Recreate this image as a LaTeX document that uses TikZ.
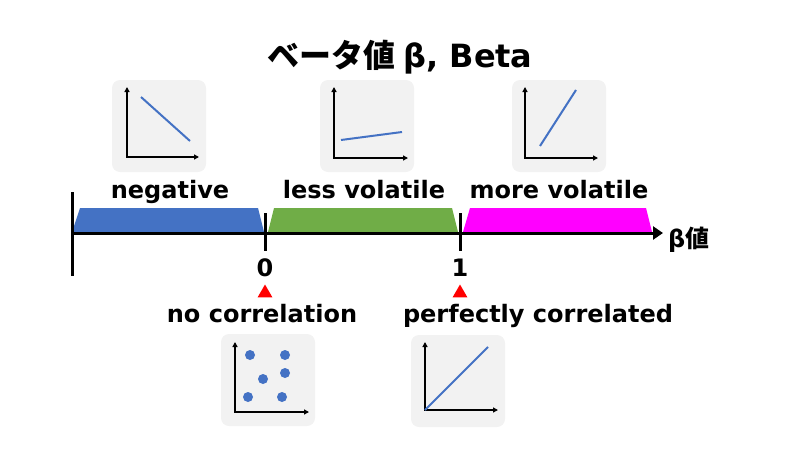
\documentclass[tikz,border=0pt]{standalone}
\usepackage{fontspec}
\setmainfont{DejaVu Sans}
\newfontfamily\jpfont{Noto Sans CJK JP}
\usetikzlibrary{positioning, arrows.meta, shapes.geometric}
\definecolor{negblue}{HTML}{4472C4}
\definecolor{lessgreen}{HTML}{70AD47}
\definecolor{moremag}{HTML}{FF00FF}
\definecolor{iconbg}{HTML}{F2F2F2}

\begin{document}
\begin{tikzpicture}[
  x=1pt, y=1pt,
  lbl/.style={font=\fontsize{24}{26}\selectfont\bfseries, inner sep=0pt, anchor=base},
  icon/.style={fill=iconbg, rounded corners=8pt, minimum width=94pt,
    minimum height=92pt, inner sep=0pt},
  ax/.style={{Triangle[length=5pt,width=5pt]}-{Triangle[length=5pt,width=5pt]},
    line width=1.4pt},
  trend/.style={draw=negblue, line width=2pt},
  dot/.style={circle, fill=negblue, minimum size=10pt, inner sep=0pt},
  redtri/.style={regular polygon, regular polygon sides=3, fill=red,
    minimum size=17pt, inner sep=0pt},
  tick/.style={line width=3pt}
]
  \useasboundingbox (0,0) rectangle (800,-450);

  % title
  \node[lbl, font=\fontsize{32}{35}\selectfont\bfseries] (title) at (400,-67)
    {{\jpfont ベータ値}\hspace{8pt}β, Beta};

  % bands above the axis
  \fill[negblue]   (72,-232) -- (80,-208) -- (258,-208) -- (264,-232) -- cycle;
  \fill[lessgreen] (268,-232) -- (274,-208) -- (452,-208) -- (458,-232) -- cycle;
  \fill[moremag]   (463,-232) -- (470,-208) -- (646,-208) -- (652,-232) -- cycle;

  \node[lbl] (neg)  at (170,-198) {negative};
  \node[lbl] (less) at (364,-198) {less volatile};
  \node[lbl] (more) at (559,-198) {more volatile};

  % axis
  \coordinate (axL) at (71,-233);
  \coordinate (axR) at (663,-233);
  \draw[line width=3pt, -{Triangle[length=10pt,width=13pt]}] (axL) -- (axR);
  \node[lbl, anchor=base west] (beta) at (668,-247) {β{\jpfont 値}};

  \coordinate (tL1) at (72,-192);  \coordinate (tL2) at (72,-276);
  \coordinate (t0a) at (265,-213); \coordinate (t0b) at (265,-251);
  \coordinate (t1a) at (460,-213); \coordinate (t1b) at (460,-251);
  \draw[tick] (tL1) -- (tL2);
  \draw[tick] (t0a) -- (t0b);
  \draw[tick] (t1a) -- (t1b);
  \node[lbl] (zero) at (265,-276) {0};
  \node[lbl] (one)  at (460,-276) {1};

  % markers
  \node[redtri] (m0) at (265,-293) {};
  \node[redtri] (m1) at (460,-293) {};
  \node[lbl] (nocorr)  at (262,-322) {no correlation};
  \node[lbl] (perfect) at (538,-322) {perfectly correlated};

  % icons: negative
  \node[icon] (icneg) at (159,-126) {};
  \draw[ax] (127,-87) |- (199,-157);
  \draw[trend] (141,-97) -- (190,-141);

  % icons: less volatile
  \node[icon] (icless) at (367,-126) {};
  \draw[ax] (334,-87) |- (408,-158);
  \draw[trend] (341,-140) -- (402,-132);

  % icons: more volatile
  \node[icon] (icmore) at (559,-126) {};
  \draw[ax] (525,-87) |- (598,-158);
  \draw[trend] (540,-146) -- (576,-90);

  % icons: no correlation
  \node[icon] (icnone) at (268,-380) {};
  \draw[ax] (235,-342) |- (309,-412);
  \node[dot] (d1) at (250,-355) {};
  \node[dot] (d2) at (285,-355) {};
  \node[dot] (d3) at (263,-379) {};
  \node[dot] (d4) at (285,-373) {};
  \node[dot] (d5) at (248,-397) {};
  \node[dot] (d6) at (282,-397) {};

  % icons: perfectly correlated
  \node[icon] (icperf) at (458,-381) {};
  \draw[ax] (425,-342) |- (498,-410);
  \draw[trend] (425,-410) -- (488,-347);
\end{tikzpicture}
\end{document}
